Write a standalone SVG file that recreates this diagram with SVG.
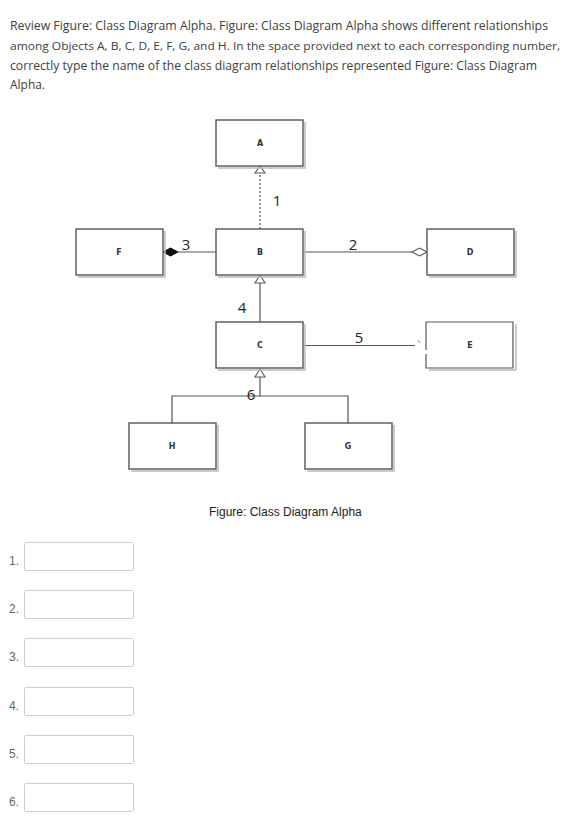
<svg xmlns="http://www.w3.org/2000/svg" width="578" height="836" viewBox="0 0 578 836">
<style>
.q{font-family:"Open Sans","Noto Sans",sans-serif;font-size:12px;fill:#404040}
.box{fill:#fff;stroke:#555;stroke-width:1.4}
.sh{fill:none;stroke:#bbb;stroke-width:1.5}
.nl{font-family:"DejaVu Sans",sans-serif;font-size:8px;font-weight:bold;fill:#333;text-anchor:middle}
.num{font-family:"Open Sans","Noto Sans",sans-serif;font-size:15px;fill:#222;text-anchor:middle}
.ln{stroke:#555;stroke-width:1.2;fill:none}
.ans{fill:#fff;stroke:#ccc;stroke-width:1}
.al{font-family:"Liberation Sans",Arial,sans-serif;font-size:12px;fill:#666}
.cap{font-family:"Liberation Sans",Arial,sans-serif;font-size:12px;fill:#222}
</style>
<rect width="578" height="836" fill="#fff"/>
<g id="question">
<text class="q" x="10" y="30" textLength="538" lengthAdjust="spacingAndGlyphs">Review Figure: Class Diagram Alpha. Figure: Class Diagram Alpha shows different relationships</text>
<text class="q" x="10" y="50" textLength="550" lengthAdjust="spacingAndGlyphs" style="font-size:11.5px">among Objects A, B, C, D, E, F, G, and H. In the space provided next to each corresponding number,</text>
<text class="q" x="10" y="70" textLength="527" lengthAdjust="spacingAndGlyphs">correctly type the name of the class diagram relationships represented Figure: Class Diagram</text>
<text class="q" x="10" y="89" textLength="35" lengthAdjust="spacingAndGlyphs">Alpha.</text>
</g>
<g id="connectors">
<line class="ln" x1="260" y1="229" x2="260" y2="172" stroke-dasharray="2,2"/>
<polygon points="260,166 255,173 265,173" fill="#fff" stroke="#555" stroke-width="1.1"/>
<line class="ln" x1="178" y1="252" x2="216" y2="252"/>
<polygon points="163,252 170.5,248 178,252 170.5,256" fill="#111" stroke="#111" stroke-width="1"/>
<line class="ln" x1="304" y1="252" x2="412" y2="252"/>
<polygon points="427,252 419.5,248 412,252 419.5,256" fill="#fff" stroke="#555" stroke-width="1.1"/>
<line class="ln" x1="260" y1="322" x2="260" y2="283"/>
<polygon points="260,275 255,283 265,283" fill="#fff" stroke="#555" stroke-width="1.1"/>
<line class="ln" x1="304" y1="345.5" x2="415" y2="345.5"/>
<line x1="418" y1="340" x2="420" y2="343" stroke="#888" stroke-width="1"/>
<polygon points="260,369 255,377 265,377" fill="#fff" stroke="#555" stroke-width="1.1"/>
<polyline class="ln" points="260,377 260,396 172,396 172,423"/>
<polyline class="ln" points="260,396 348,396 348,423"/>
</g>
<g id="A"><polyline class="sh" points="305,122 305,168 218,168"/><rect class="box" x="216" y="120" width="87" height="46"/><text class="nl" x="260" y="146">A</text></g>
<g id="F"><polyline class="sh" points="165,231 165,277 78,277"/><rect class="box" x="76" y="229" width="87" height="46"/><text class="nl" x="119" y="255">F</text></g>
<g id="B"><polyline class="sh" points="305,231 305,277 218,277"/><rect class="box" x="216" y="229" width="87" height="46"/><text class="nl" x="260" y="255">B</text></g>
<g id="D"><polyline class="sh" points="516,231 516,277 429,277"/><rect class="box" x="427" y="229" width="87" height="46"/><text class="nl" x="470" y="255">D</text></g>
<g id="C"><polyline class="sh" points="305,324 305,370 218,370"/><rect class="box" x="216" y="322" width="87" height="46"/><text class="nl" x="260" y="348">C</text></g>
<g id="E"><polyline class="sh" points="516,324 516,370 429,370"/><polyline class="ln" stroke-width="1.4" points="426,350 426,322 513,322 513,368 426,368 426,354"/><text class="nl" x="470" y="348">E</text></g>
<g id="H"><polyline class="sh" points="218,425 218,471 131,471"/><rect class="box" x="129" y="423" width="87" height="46"/><text class="nl" x="172" y="449">H</text></g>
<g id="G"><polyline class="sh" points="394,425 394,471 307,471"/><rect class="box" x="305" y="423" width="87" height="46"/><text class="nl" x="348" y="449">G</text></g>
<g id="labels">
<text class="num" x="277" y="206">1</text>
<text class="num" x="353" y="250">2</text>
<text class="num" x="186" y="250">3</text>
<text class="num" x="242" y="313">4</text>
<text class="num" x="359" y="343">5</text>
<text class="num" x="251" y="400">6</text>
</g>
<text class="cap" x="209" y="516">Figure: Class Diagram Alpha</text>
<g id="answers">
<text class="al" x="9" y="565">1.</text><rect class="ans" x="24.5" y="542.5" width="109" height="28" rx="1"/>
<text class="al" x="9" y="613">2.</text><rect class="ans" x="24.5" y="590.5" width="109" height="28" rx="1"/>
<text class="al" x="9" y="661">3.</text><rect class="ans" x="24.5" y="638.5" width="109" height="28" rx="1"/>
<text class="al" x="9" y="710">4.</text><rect class="ans" x="24.5" y="687.5" width="109" height="28" rx="1"/>
<text class="al" x="9" y="758">5.</text><rect class="ans" x="24.5" y="735.5" width="109" height="28" rx="1"/>
<text class="al" x="9" y="806">6.</text><rect class="ans" x="24.5" y="783.5" width="109" height="28" rx="1"/>
</g>
</svg>
